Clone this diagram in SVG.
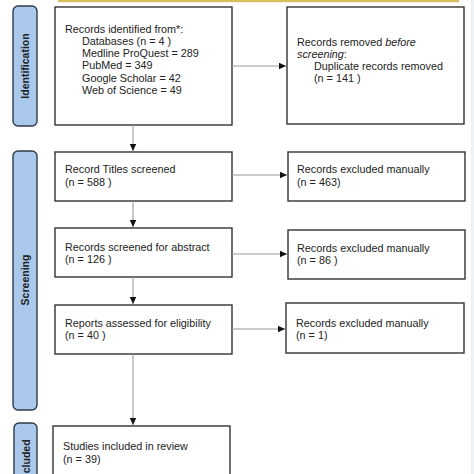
<svg xmlns="http://www.w3.org/2000/svg" width="474" height="474" viewBox="0 0 474 474">
<defs>
<marker id="ah" markerWidth="8" markerHeight="8" refX="7" refY="4" orient="auto" markerUnits="userSpaceOnUse">
<path d="M0,0.8 L7,4 L0,7.2 Z" fill="#111"/>
</marker>
<style>
.box{fill:#fff;stroke:#333;stroke-width:1.4}
.side{fill:#a9c8ec;stroke:#2f3b4a;stroke-width:1.4}
.t{font-family:"Liberation Sans",Arial,sans-serif;font-size:10.8px;fill:#222}
.st{font-family:"Liberation Sans",Arial,sans-serif;font-size:10.5px;font-weight:bold;fill:#222}
.c{stroke:#999;stroke-width:1.1;fill:none;marker-end:url(#ah)}
</style>
</defs>
<rect x="0" y="0" width="474" height="474" fill="#fff"/>
<rect x="471" y="0" width="3" height="474" fill="#eef2f7"/>
<rect x="58" y="0" width="401" height="2.2" fill="#d8bf5e"/>

<g id="side-identification">
<rect class="side" x="13" y="6" width="24" height="120" rx="5"/>
<text class="st" transform="translate(29,66) rotate(-90)" text-anchor="middle">Identification</text>
</g>
<g id="side-screening">
<rect class="side" x="13" y="151" width="24" height="259" rx="5"/>
<text class="st" transform="translate(29,280) rotate(-90)" text-anchor="middle">Screening</text>
</g>
<g id="side-included">
<rect class="side" x="14" y="423" width="23" height="70" rx="5"/>
<text class="st" transform="translate(29.5,461) rotate(-90)" text-anchor="middle">Included</text>
</g>

<g id="n-identified">
<rect class="box" x="55" y="7" width="177" height="118"/>
<text class="t" x="65" y="33">Records identified from*:</text>
<text class="t" x="82" y="45">Databases (n = 4 )</text>
<text class="t" x="82" y="57">Medline ProQuest = 289</text>
<text class="t" x="82" y="69">PubMed = 349</text>
<text class="t" x="82" y="82">Google Scholar = 42</text>
<text class="t" x="82" y="94">Web of Science = 49</text>
</g>
<g id="n-removed">
<rect class="box" x="287" y="7" width="177" height="117"/>
<text class="t" x="297" y="46">Records removed <tspan font-style="italic">before</tspan></text>
<text class="t" x="297" y="58"><tspan font-style="italic">screening</tspan>:</text>
<text class="t" x="314" y="70">Duplicate records removed</text>
<text class="t" x="314" y="82">(n = 141 )</text>
</g>
<g id="n-titles">
<rect class="box" x="55" y="152" width="177" height="49"/>
<text class="t" x="65" y="173">Record Titles screened</text>
<text class="t" x="65" y="186">(n = 588 )</text>
</g>
<g id="n-excl1">
<rect class="box" x="288" y="152" width="177" height="49"/>
<text class="t" x="297" y="173">Records excluded manually</text>
<text class="t" x="297" y="186">(n = 463)</text>
</g>
<g id="n-abstract">
<rect class="box" x="55" y="228" width="177" height="49"/>
<text class="t" x="65" y="251">Records screened for abstract</text>
<text class="t" x="65" y="263">(n = 126 )</text>
</g>
<g id="n-excl2">
<rect class="box" x="288" y="230" width="177" height="49"/>
<text class="t" x="297" y="252">Records excluded manually</text>
<text class="t" x="297" y="264">(n = 86 )</text>
</g>
<g id="n-eligibility">
<rect class="box" x="55" y="305" width="177" height="49"/>
<text class="t" x="65" y="327">Reports assessed for eligibility</text>
<text class="t" x="65" y="339">(n = 40 )</text>
</g>
<g id="n-excl3">
<rect class="box" x="286" y="303" width="178" height="50"/>
<text class="t" x="296" y="327">Records excluded manually</text>
<text class="t" x="296" y="339">(n = 1)</text>
</g>
<g id="n-included">
<rect class="box" x="53" y="426" width="177" height="70"/>
<text class="t" x="63" y="450">Studies included in review</text>
<text class="t" x="63" y="463">(n = 39)</text>
</g>

<g id="connectors">
<line class="c" x1="133" y1="125" x2="133" y2="151"/>
<line class="c" x1="232" y1="66" x2="286" y2="66"/>
<line class="c" x1="133" y1="201" x2="133" y2="227"/>
<line class="c" x1="232" y1="175" x2="287" y2="175"/>
<line class="c" x1="133" y1="277" x2="133" y2="304"/>
<line class="c" x1="232" y1="254" x2="287" y2="254"/>
<line class="c" x1="133" y1="354" x2="133" y2="425"/>
<line class="c" x1="232" y1="329" x2="285" y2="329"/>
</g>
</svg>
